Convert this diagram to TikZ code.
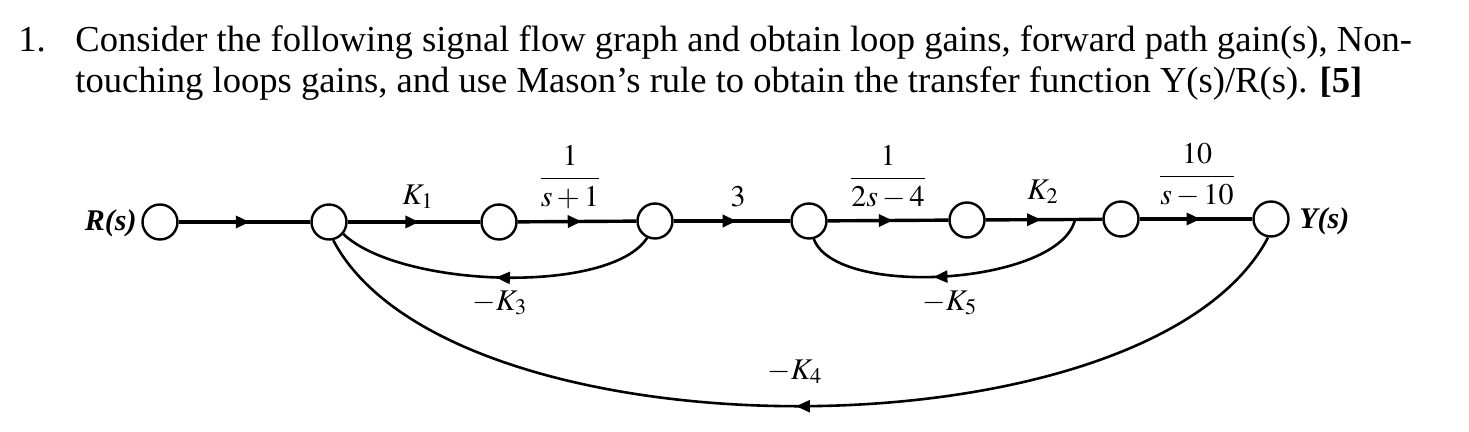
\documentclass[tikz,border=0pt]{standalone}
\usepackage{mathptmx}
\usepackage{fontspec}
\setmainfont{Liberation Serif}
\usetikzlibrary{arrows.meta,decorations.markings}
\tikzset{
  nd/.style={circle, draw, line width=1.2pt, minimum size=17.5pt, inner sep=0pt, fill=white},
  fwd/.style={line width=1.7pt},
  crv/.style={line width=1.3pt},
  flow/.style={decoration={markings, mark=at position #1 with {\arrow{Triangle[length=7pt,width=6pt]}}}, postaction={decorate}},
  flow/.default=0.54,
  lbl/.style={inner sep=0pt, font=\fontsize{15}{18}\selectfont},
  ttl/.style={anchor=base west, inner sep=0pt, font=\fontsize{18.3}{20}\selectfont}
}
\begin{document}
\begin{tikzpicture}[x=0.5pt,y=0.5pt]
\fill[white] (0,0) rectangle (1469,-432);
\path[use as bounding box] (0,0) rectangle (1469,-432);
% title
\node[ttl] (num) at (18,-52) {1.};
\node[ttl] (l1) at (75,-52) {Consider the following signal flow graph and obtain loop gains, forward path gain(s), Non-};
\node[ttl] (l2) at (75,-93) {touching loops gains, and use Mason’s rule to obtain the transfer function Y(s)/R(s). \textbf{[5]}};
% nodes
\node[nd] (r) at (160,-222) {};
\node[nd] (a) at (329,-222) {};
\node[nd] (b) at (499,-222) {};
\node[nd] (c) at (655,-221) {};
\node[nd] (d) at (809,-221) {};
\node[nd] (e) at (967,-220) {};
\node[nd] (f) at (1121,-219) {};
\node[nd] (y) at (1271,-219) {};
\coordinate (j) at (1075,-219.5);
% forward branches
\draw[fwd, flow] (r) -- (a);
\draw[fwd, flow] (a) -- (b);
\draw[fwd, flow] (b) -- (c);
\draw[fwd, flow] (c) -- (d);
\draw[fwd, flow] (d) -- (e);
\draw[fwd, flow=0.62] (e) -- (j);
\draw[fwd] (j) -- (f);
\draw[fwd, flow] (f) -- (y);
% feedback branches
\draw[crv, flow=0.5] (c.-115) .. controls (610,-295) and (400,-288) .. (a.-40);
\draw[crv, flow=0.55] (j) .. controls (1060,-285) and (836,-299) .. (d.-75);
\draw[crv, flow=0.505] (y.-99) .. controls (1150,-462) and (450,-462) .. (a.-77);
% labels
\node[lbl, anchor=east] (lr) at (137,-223) {\bfseries\itshape R(s)};
\node[lbl, anchor=west] (ly) at (1299,-221) {\bfseries\itshape Y(s)};
\node[lbl] (k1) at (418,-197) {$K_1$};
\node[lbl] (g1) at (570,-177) {$\displaystyle\frac{1}{s+1}$};
\node[lbl] (g3) at (738,-197) {$3$};
\node[lbl] (g2) at (888,-177) {$\displaystyle\frac{1}{2s-4}$};
\node[lbl] (k2) at (1043,-192) {$K_2$};
\node[lbl] (g4) at (1197,-175) {$\displaystyle\frac{10}{s-10}$};
\node[lbl] (k3) at (500,-303) {$-K_3$};
\node[lbl] (k5) at (950,-303) {$-K_5$};
\node[lbl] (k4) at (795,-372) {$-K_4$};
\end{tikzpicture}
\end{document}
